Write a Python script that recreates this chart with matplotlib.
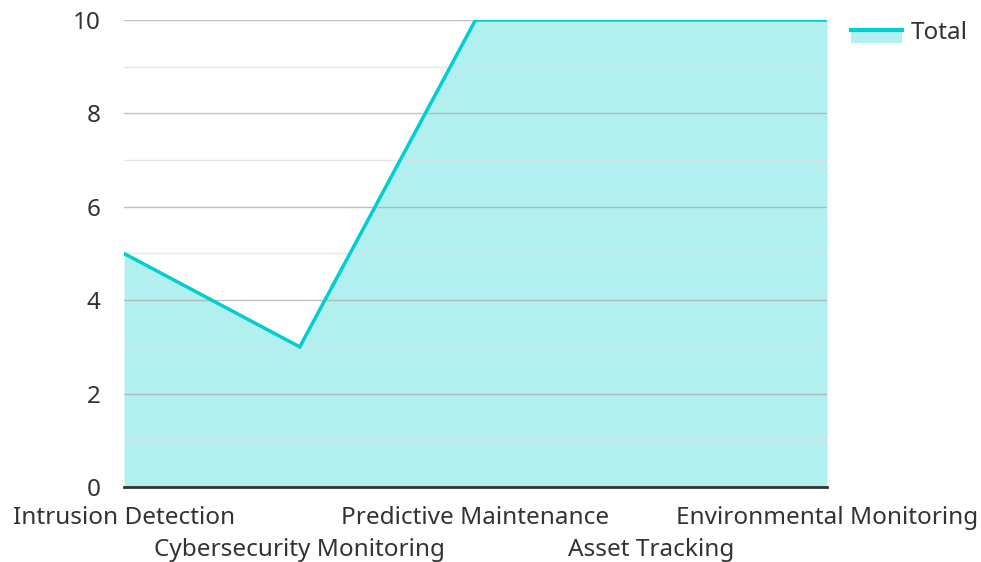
import matplotlib
matplotlib.use('Agg')
import matplotlib.pyplot as plt
from matplotlib.legend_handler import HandlerBase
from matplotlib.patches import Rectangle
from matplotlib.lines import Line2D

plt.rcParams['font.family'] = ['Noto Sans', 'DejaVu Sans']

categories = ['Intrusion Detection', 'Cybersecurity Monitoring', 'Predictive Maintenance',
              'Asset Tracking', 'Environmental Monitoring']
totals = [5, 3, 10, 10, 10]
y_ticks = [0, 2, 4, 6, 8, 10]

LINE_COLOR = '#00CED1'
FILL_COLOR = '#B2F0F0'
TEXT_COLOR = '#333333'
FS = 17.5


class AreaHandler(HandlerBase):
    # fill patch with the line along its top edge
    def create_artists(self, legend, orig, xd, yd, width, height, fontsize, trans):
        h = height * 0.75
        y0 = yd - height * 0.2
        rect = Rectangle((xd, y0), width, h, facecolor=FILL_COLOR, edgecolor='none',
                         transform=trans)
        line = Line2D([xd, xd + width], [y0 + h, y0 + h], color=LINE_COLOR, linewidth=3,
                      transform=trans)
        return [rect, line]


fig = plt.figure(figsize=(9.81, 5.62), dpi=100)
ax = fig.add_axes([0.1264, 0.1335, 0.7166, 0.8309])

x = range(len(categories))
ax.fill_between(x, totals, 0, color=FILL_COLOR, linewidth=0, zorder=1)
ax.plot(x, totals, color=LINE_COLOR, linewidth=2.5, zorder=3, solid_joinstyle='miter')

ax.set_xlim(0, len(categories) - 1)
ax.set_ylim(0, 10)
ax.set_yticks(y_ticks)
ax.set_yticks([1, 3, 5, 7, 9], minor=True)
ax.grid(True, axis='y', which='major', color='#b0b0b0', linewidth=1, alpha=0.8, zorder=2)
ax.grid(True, axis='y', which='minor', color='#e2e2e2', linewidth=1, alpha=0.8, zorder=2)
ax.set_axisbelow(False)

ax.set_xticks(list(x))
ax.set_xticklabels(categories)
ax.tick_params(axis='both', which='both', length=0, labelsize=FS, colors=TEXT_COLOR)
ax.tick_params(axis='y', pad=17)
ax.tick_params(axis='x', pad=14)
# stagger the long category names onto two rows
for i, tick in enumerate(ax.xaxis.get_major_ticks()):
    if i % 2:
        tick._apply_params(pad=36.5)

for side in ['top', 'right', 'left']:
    ax.spines[side].set_visible(False)
ax.spines['bottom'].set_color('#333333')
ax.spines['bottom'].set_linewidth(2)
ax.spines['bottom'].set_zorder(4)

handle = Rectangle((0, 0), 1, 1)
leg = ax.legend([handle], ['Total'], handler_map={Rectangle: AreaHandler()},
                loc='upper left', bbox_to_anchor=(1.003, 1.044), frameon=False,
                fontsize=FS, handlelength=2.1, handletextpad=0.35)
for t in leg.get_texts():
    t.set_color(TEXT_COLOR)

fig.savefig('out.png', dpi=100)
